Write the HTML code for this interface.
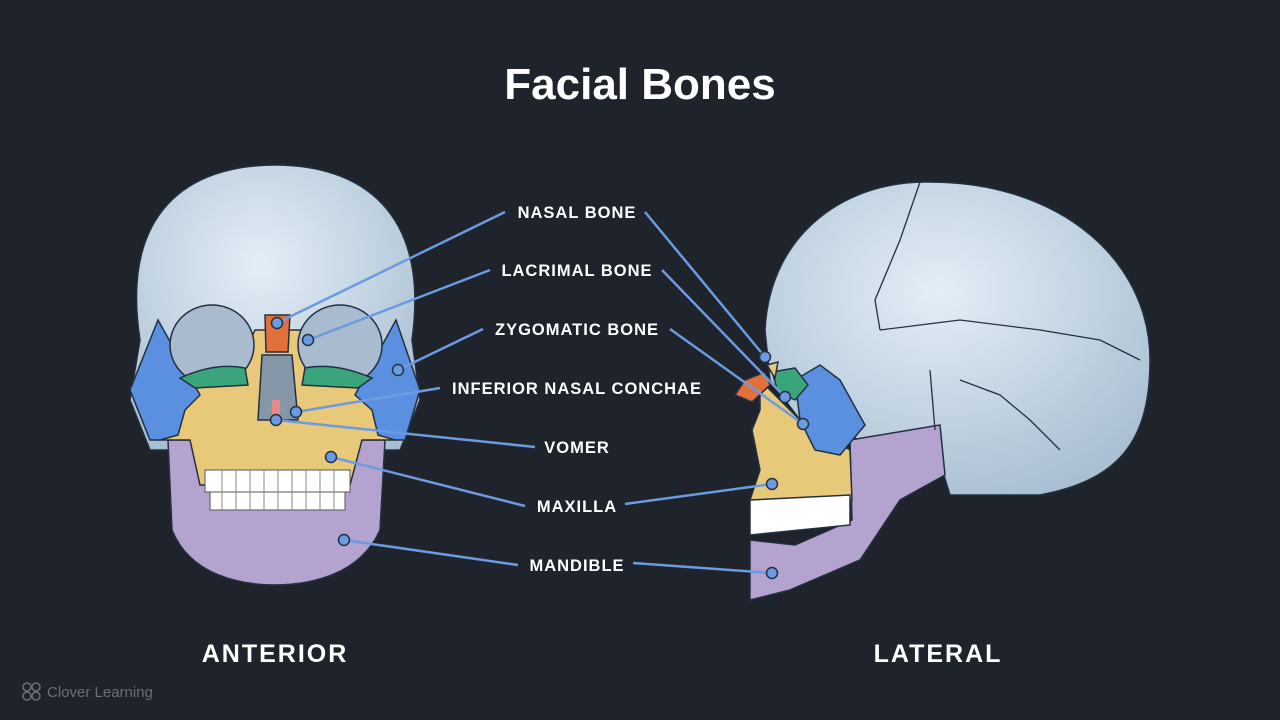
<!DOCTYPE html>
<html><head><style>
html,body{margin:0;padding:0;background:#1f232b;}
body{width:1280px;height:720px;overflow:hidden;position:relative;font-family:"Liberation Sans",sans-serif;}
svg{position:absolute;left:0;top:0;}
</style></head><body>
<svg width="1280" height="720" viewBox="0 0 1280 720">
<defs>
<radialGradient id="cr" cx="0.45" cy="0.35" r="0.7"><stop offset="0" stop-color="#e4eef7"/><stop offset="1" stop-color="#a9bfd2"/></radialGradient>
</defs>
<!-- ANTERIOR -->
<g stroke="#233040" stroke-width="1.5">
<path d="M140 340 C120 210 190 165 275 165 C360 165 430 210 412 340 L420 400 L400 450 L150 450 L130 400 Z" fill="url(#cr)"/>
<path d="M168 440 L385 440 L380 530 C360 575 310 585 275 585 C240 585 190 575 172 530 Z" fill="#b4a3cf"/>
<path d="M160 420 L180 380 L230 385 L255 330 L300 330 L322 385 L372 380 L395 420 L395 440 L362 440 L350 485 L200 485 L190 440 L160 440 Z" fill="#e8c97a"/>
<path d="M130 390 L158 320 L200 395 L185 410 L178 435 L160 440 L150 440 Z M420 390 L396 320 L355 395 L372 410 L378 435 L395 440 L405 440 Z" fill="#5b8fe0"/>
<ellipse cx="212" cy="345" rx="42" ry="40" fill="#a9bccf"/>
<ellipse cx="340" cy="345" rx="42" ry="40" fill="#a9bccf"/>
<path d="M180 378 Q215 362 245 368 L248 385 L195 388Z M305 368 Q335 362 372 378 L358 388 L302 385Z" fill="#3aa57a"/>
<path d="M265 315 L290 315 L288 352 L266 352 Z" fill="#e2703a"/>
<path d="M262 355 L292 355 L298 420 L258 420 Z" fill="#8496a8"/>
<rect x="272" y="400" width="8" height="16" fill="#e88a8a" stroke="none"/>
</g>
<g fill="#fff" stroke="#555" stroke-width="1">
<path d="M205 470 h145 v22 h-145z"/>
<path d="M210 492 h135 v18 h-135z"/>
</g>
<g stroke="#888" stroke-width="1">
<path d="M222 470v40 M236 470v40 M250 470v40 M264 470v40 M278 470v40 M292 470v40 M306 470v40 M320 470v40 M334 470v40"/>
</g>
<!-- LATERAL -->
<g stroke="#233040" stroke-width="1.5">
<path d="M765 330 C770 230 850 180 930 182 C1060 182 1150 260 1150 360 C1150 440 1120 480 1040 495 L950 495 L930 430 L860 440 L800 420 L770 380 Z" fill="url(#cr)"/>
<path d="M850 440 L940 425 L945 475 L900 500 L860 560 L790 590 L750 600 L750 540 L795 545 L852 520 Z" fill="#b4a3cf"/>
<path d="M760 380 L800 420 L850 450 L852 500 L800 500 L750 500 L760 470 L752 430 L760 410 Z" fill="#e8c97a"/>
<path d="M795 380 L820 365 L840 380 L865 425 L840 455 L815 450 L800 420 Z" fill="#5b8fe0"/>
<path d="M772 372 L795 368 L808 385 L795 400 L778 392 Z" fill="#3aa57a"/>
<path d="M745 380 L765 372 L770 385 L752 402 L735 395 Z" fill="#e2703a"/>
<path d="M767 365 L778 362 L775 378 Z" fill="#e8c97a"/>
<path d="M750 500 L850 495 L850 525 L750 535 Z" fill="#fff"/>
</g>
<g stroke="#233040" stroke-width="1.3" fill="none">
<path d="M920 182 L900 240 L875 300 L880 330"/>
<path d="M880 330 L960 320 L1040 330 L1100 340 L1140 360"/>
<path d="M930 370 L935 430 M960 380 L1000 395 L1030 420 L1060 450"/>
</g>
<!-- connectors -->
<g stroke="#6b9be0" stroke-width="2.5" fill="none">
<path d="M505 212 L277 323 M645 212 L765 357"/>
<path d="M490 270 L308 340 M662 270 L785 397"/>
<path d="M483 329 L398 370 M670 329 L803 424"/>
<path d="M440 388 L296 412"/>
<path d="M535 447 L276 420"/>
<path d="M525 506 L331 457 M625 504 L772 484"/>
<path d="M518 565 L344 540 M633 563 L772 573"/>
</g>
<g fill="#6b9be0" stroke="#233040" stroke-width="1.5">
<circle cx="277" cy="323" r="5.5"/><circle cx="765" cy="357" r="5.5"/>
<circle cx="308" cy="340" r="5.5"/><circle cx="785" cy="397" r="5.5"/>
<circle cx="398" cy="370" r="5.5"/><circle cx="803" cy="424" r="5.5"/>
<circle cx="296" cy="412" r="5.5"/><circle cx="276" cy="420" r="5.5"/>
<circle cx="331" cy="457" r="5.5"/><circle cx="772" cy="484" r="5.5"/>
<circle cx="344" cy="540" r="5.5"/><circle cx="772" cy="573" r="5.5"/>
</g>
<g fill="#fff" font-family="Liberation Sans, sans-serif" font-weight="bold" text-anchor="middle">
<text x="640" y="99" font-size="44">Facial Bones</text>
<g font-size="16.5" letter-spacing="1">
<text x="577" y="218">NASAL BONE</text>
<text x="577" y="276">LACRIMAL BONE</text>
<text x="577" y="335">ZYGOMATIC BONE</text>
<text x="577" y="394">INFERIOR NASAL CONCHAE</text>
<text x="577" y="453">VOMER</text>
<text x="577" y="512">MAXILLA</text>
<text x="577" y="571">MANDIBLE</text>
</g>
<text x="275" y="662" font-size="25" letter-spacing="2">ANTERIOR</text>
<text x="938" y="662" font-size="25" letter-spacing="2">LATERAL</text>
</g>
<g fill="none" stroke="#6a6f78" stroke-width="1.5"><circle cx="27" cy="687" r="4"/><circle cx="36" cy="687" r="4"/><circle cx="27" cy="696" r="4"/><circle cx="36" cy="696" r="4"/></g>
<text x="47" y="697" font-size="15" fill="#6a6f78" font-family="Liberation Sans, sans-serif">Clover Learning</text>
</svg>
</body></html>
